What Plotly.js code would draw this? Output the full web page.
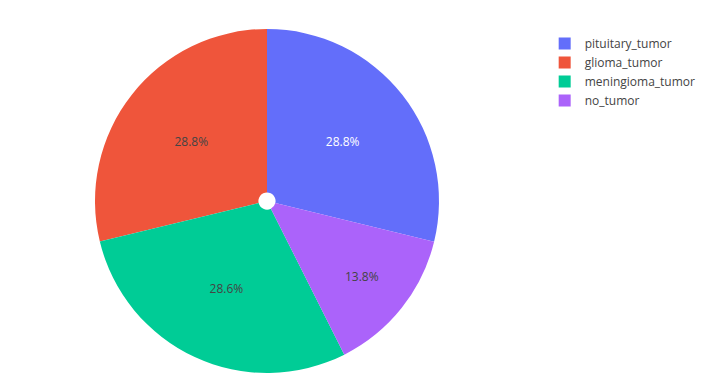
<!DOCTYPE html>
<html>
<head>
<meta charset="utf-8">
<script src="https://cdn.plot.ly/plotly-3.0.1.min.js"></script>
<style>html,body{margin:0;padding:0;background:#fff;}#chart{width:722px;height:384px;}</style>
</head>
<body>
<div id="chart"></div>
<script>
const categories = ["pituitary_tumor", "glioma_tumor", "meningioma_tumor", "no_tumor"];
const counts = [827, 826, 822, 395];
const colors = ["#636efa", "#EF553B", "#00cc96", "#ab63fa"];

const data = [{
  type: "pie",
  labels: categories,
  values: counts,
  hole: 0.05,
  marker: {colors: colors},
  textinfo: "percent",
  sort: true
}];
const layout = {
  width: 722,
  height: 384,
  margin: {l: 0, r: 188, t: 29, b: 11},
  paper_bgcolor: "#fff",
  font: {family: '"Open Sans", verdana, arial, sans-serif', size: 12, color: "#444"},
  showlegend: true
};
Plotly.newPlot("chart", data, layout, {displayModeBar: false});
</script>
</body>
</html>
